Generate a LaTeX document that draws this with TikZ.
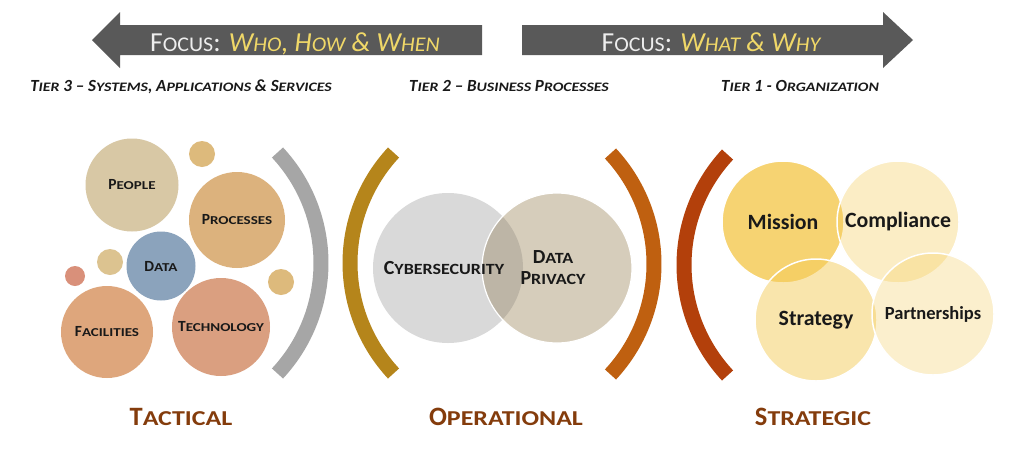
\documentclass[tikz,border=0pt]{standalone}
\usepackage{fontspec}
\setmainfont{Carlito}
\def\scx{0.9}\def\scy{0.77}
\newcommand\fsc[2]{#1\scalebox{\scx}[\scy]{\MakeUppercase{#2}}}
\definecolor{arrowgray}{HTML}{595959}
\definecolor{focuswhite}{HTML}{EDEDED}
\definecolor{focusyellow}{HTML}{F0D868}
\definecolor{tierbrown}{HTML}{843C0C}
\definecolor{brgray}{HTML}{A6A6A6}
\definecolor{brgold}{HTML}{B5851B}
\definecolor{brorange}{HTML}{BF6010}
\definecolor{brred}{HTML}{B3400B}
\definecolor{cPeople}{HTML}{D8C8A5}
\definecolor{cProc}{HTML}{DCB27D}
\definecolor{cData}{HTML}{8BA3BC}
\definecolor{cFac}{HTML}{DEA67C}
\definecolor{cTech}{HTML}{DA9F80}
\definecolor{cDotA}{HTML}{DDBA7C}
\definecolor{cDotB}{HTML}{DCC390}
\definecolor{cDotC}{HTML}{D9907A}
\definecolor{cCyber}{HTML}{D9D9D9}
\definecolor{cPriv}{HTML}{D6CDBB}
\definecolor{cOver}{HTML}{BDB5A6}
\definecolor{cGold}{HTML}{F5CC5A}
\begin{document}
\begin{tikzpicture}[x=1pt,y=-1pt,
  bigarrow/.style={fill=arrowgray},
  focus/.style={font={\def\scx{0.8}\def\scy{0.76}\fontsize{27.5}{30}\selectfont}, text=focuswhite, inner sep=0pt, anchor=base},
  tier/.style={font={\def\scx{0.93}\def\scy{0.76}\fontsize{17}{19}\selectfont\bfseries\itshape}, text=black!90, inner sep=0pt, anchor=base},
  bracket/.style={line width=15pt},
  tcirc/.style={circle, inner sep=0pt, text=black!90, font={\def\scx{0.97}\def\scy{0.78}\fontsize{15.5}{17}\selectfont\bfseries}},
  dot/.style={circle, inner sep=0pt},
  ocirc/.style={circle, inner sep=0pt, minimum size=150pt},
  olabel/.style={text=black!90, font={\def\scx{0.9}\def\scy{0.78}\fontsize{20}{22}\selectfont\bfseries}, align=center, inner sep=0pt},
  scirc/.style={circle, inner sep=0pt, minimum size=122pt, draw=white, line width=1.5pt, fill=cGold, text opacity=1, text=black!90},
  bottom/.style={font={\def\scx{0.98}\def\scy{0.8}\fontsize{26.5}{29}\selectfont\bfseries}, text=tierbrown, inner sep=0pt, anchor=base}
]
\fill[white] (0,0) rectangle (1024,453);
\useasboundingbox (0,0) rectangle (1024,453);

% arrows
\fill[bigarrow] (482,25) -- (120,25) -- (120,12) -- (92,40) -- (120,68) -- (120,55) -- (482,55) -- cycle;
\fill[bigarrow] (522,25) -- (883,25) -- (883,12) -- (913,40) -- (883,68) -- (883,55) -- (522,55) -- cycle;
\node[focus] (fleft) at (295,51) {\fsc{F}{ocus}: \textcolor{focusyellow}{\itshape\fsc{W}{ho}, \fsc{H}{ow} \& \fsc{W}{hen}}};
\node[focus] (fright) at (711,51) {\fsc{F}{ocus}: \textcolor{focusyellow}{\itshape\fsc{W}{hat} \& \fsc{W}{hy}}};

% tiers
\node[tier] (tier3) at (181,91) {\fsc{T}{ier} 3 -- \fsc{S}{ystems}, \fsc{A}{pplications} \& \fsc{S}{ervices}};
\node[tier] (tier2) at (509,91) {\fsc{T}{ier} 2 -- \fsc{B}{usiness} \fsc{P}{rocesses}};
\node[tier] (tier1) at (800,91) {\fsc{T}{ier} 1 - \fsc{O}{rganization}};

% brackets
\draw[bracket, brgray] plot[domain=-43:43, samples=60] ({159+162*cos(\x)}, {263+162*sin(\x)});
\draw[bracket, brgold] plot[domain=-43:43, samples=60] ({512-162*cos(\x)}, {263+162*sin(\x)});
\draw[bracket, brorange] plot[domain=-43:43, samples=60] ({492+162*cos(\x)}, {264+162*sin(\x)});
\draw[bracket, brred] plot[domain=-43:43, samples=60] ({846-162*cos(\x)}, {265+162*sin(\x)});

% tactical
\node[dot, fill=cDotA, minimum size=26pt] (dot1) at (202,154) {};
\node[dot, fill=cDotB, minimum size=26pt] (dot2) at (110,262) {};
\node[dot, fill=cDotC, minimum size=20pt] (dot3) at (75,276) {};
\node[dot, fill=cDotA, minimum size=26pt] (dot4) at (281,282) {};
\node[tcirc, fill=cPeople, minimum size=93pt] (people) at (132,185) {\fsc{P}{eople}};
\node[tcirc, fill=cProc, minimum size=96pt] (proc) at (237,220) {\fsc{P}{rocesses}};
\node[tcirc, fill=cData, minimum size=69pt] (data) at (161,266) {\fsc{D}{ata}};
\node[tcirc, fill=cFac, minimum size=92pt] (fac) at (107,332) {\fsc{F}{acilities}};
\node[tcirc, fill=cTech, minimum size=98pt] (tech) at (221,327) {\fsc{T}{echnology}};

% operational
\node[ocirc, fill=cCyber] (cyber) at (448,268) {};
\node[ocirc, fill=cPriv] (priv) at (557,268) {};
\begin{scope}
\clip (cyber.center) circle[radius=75];
\fill[cOver] (priv.center) circle[radius=75];
\end{scope}
\draw[white, line width=1.2pt] (priv.center) circle[radius=75];
\node[olabel] (cyberlbl) at (444,268) {\fsc{C}{ybersecurity}};
\node[olabel] (privlbl) at (553,268) {\fsc{D}{ata}\\[-1pt]\fsc{P}{rivacy}};

% strategic
\node[scirc, fill opacity=0.85, font=\fontsize{21.8}{23}\selectfont\bfseries] (mission) at (783,222) {Mission};
\node[scirc, fill opacity=0.35, font=\fontsize{21.8}{23}\selectfont\bfseries] (compl) at (898,222) {Compliance};
\node[scirc, fill opacity=0.5, font=\fontsize{21.8}{23}\selectfont\bfseries] (strat) at (816,320) {Strategy};
\node[scirc, fill opacity=0.3, font=\fontsize{18.5}{20}\selectfont\bfseries] (partn) at (933,314) {Partnerships};

% bottom labels
\node[bottom] (tact) at (181,425) {\fsc{T}{actical}};
\node[bottom] (oper) at (506,425) {\fsc{O}{perational}};
\node[bottom] (strg) at (813,425) {\fsc{S}{trategic}};
\end{tikzpicture}
\end{document}
